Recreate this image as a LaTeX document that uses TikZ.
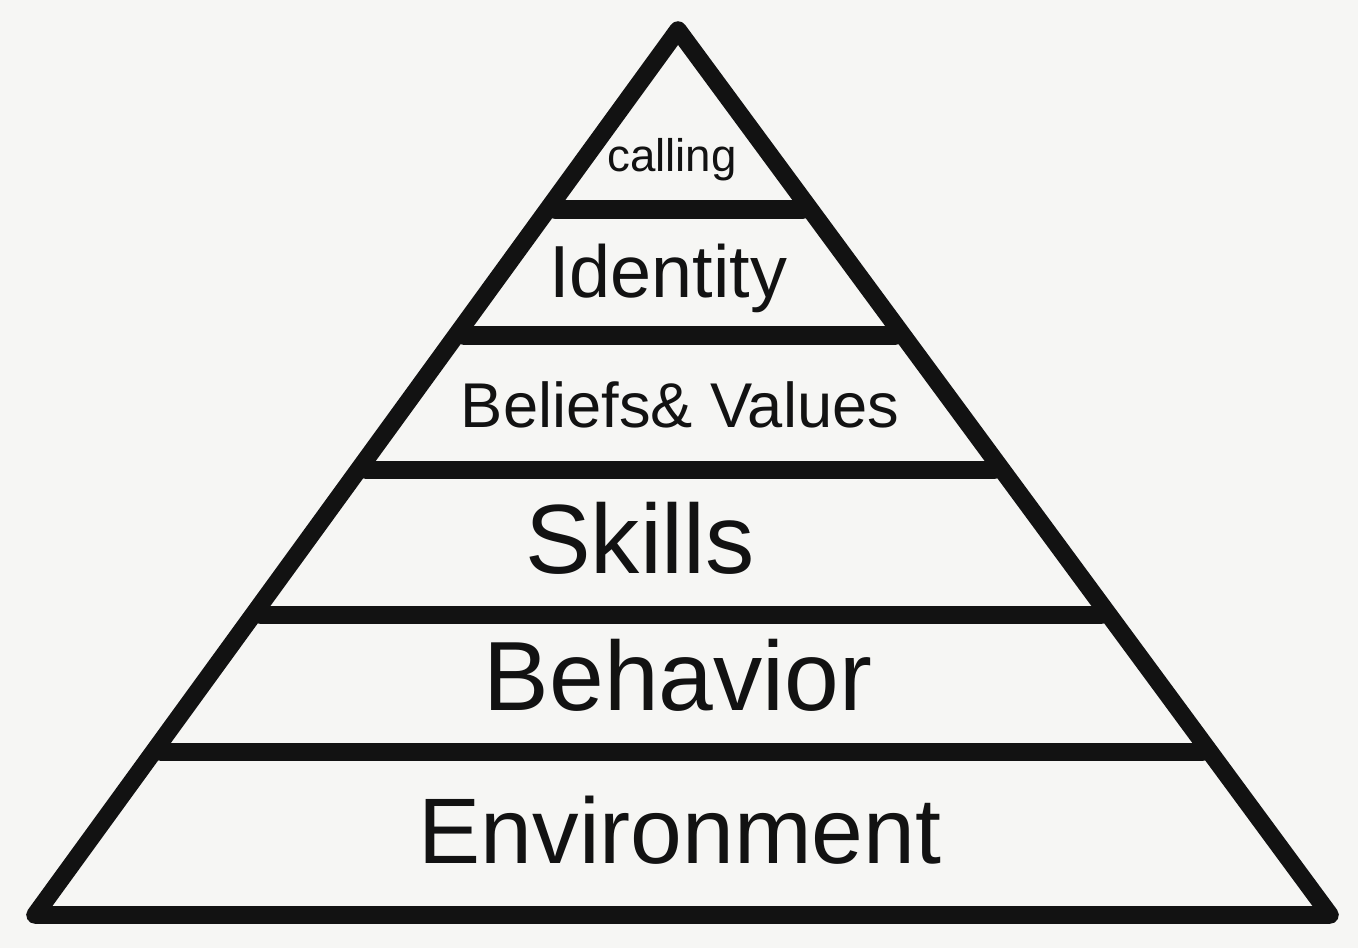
\documentclass[tikz,border=0pt]{standalone}
\usepackage{fontspec}
\setmainfont{Liberation Sans}
\usepackage{tikz}
\usetikzlibrary{calc}
\definecolor{PyPaper}{HTML}{F6F6F4}
\definecolor{PyInk}{HTML}{121212}

\begin{document}
\begin{tikzpicture}[x=0.02cm,y=-0.02cm]
\path[use as bounding box] (0,0) rectangle (1358,948);
\fill[PyPaper] (0,0) rectangle (1358,948);
\coordinate (apex) at (678,30);
\coordinate (baseL) at (35,915);
\coordinate (baseR) at (1330,915);
\draw[PyInk,line width=10pt,line join=round,line cap=round] (apex) -- (baseL) -- (baseR) -- cycle;
\foreach \t in {0.203,0.345,0.497,0.661,0.816}
  \draw[PyInk,line width=10.5pt,line cap=round] ($(apex)!\t!(baseL)+(8,0)$) -- ($(apex)!\t!(baseR)-(8,0)$);
\node[PyInk] (calling) at (672,160) {\fontsize{26}{30}\selectfont calling};
\node[PyInk] (identity) at (668,278) {\fontsize{42}{48}\selectfont Identity};
\node[PyInk] (beliefs) at (680,405) {\fontsize{36}{42}\selectfont Beliefs\& Values};
\node[PyInk] (skills) at (640,538) {\fontsize{56}{62}\selectfont Skills};
\node[PyInk] (behavior) at (678,675) {\fontsize{56}{62}\selectfont Behavior};
\node[PyInk] (environment) at (680,830) {\fontsize{53}{60}\selectfont Environment};
\end{tikzpicture}
\end{document}
